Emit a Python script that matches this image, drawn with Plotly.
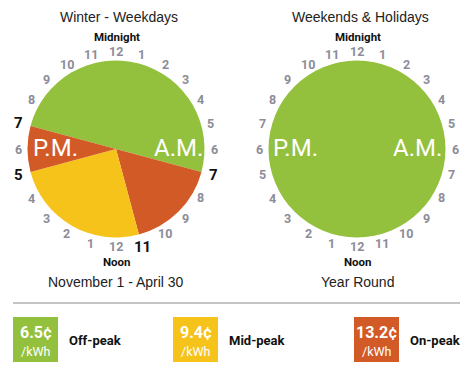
import math
import plotly.graph_objects as go

W, H = 474, 375

# ---- data ----
winter_periods = ["7 PM - 7 AM", "7 AM - 11 AM", "11 AM - 5 PM", "5 PM - 7 PM"]
winter_hours = [12, 4, 6, 2]
winter_types = ["Off-peak", "On-peak", "Mid-peak", "On-peak"]
weekend_periods = ["All day"]
weekend_hours = [24]
weekend_types = ["Off-peak"]
winter_start_hour = 19  # first slice starts at 7 PM
weekend_start_hour = 0

hour_labels = ["12", "1", "2", "3", "4", "5", "6", "7", "8", "9", "10", "11",
               "12", "1", "2", "3", "4", "5", "6", "7", "8", "9", "10", "11"]
winter_bold_hours = [7, 11, 17, 19]

price_types = ["Off-peak", "Mid-peak", "On-peak"]
price_values = ["6.5¢", "9.4¢", "13.2¢"]

colors = {"Off-peak": "#94C13D", "Mid-peak": "#F6C31B", "On-peak": "#D25A27"}

# ---- layout geometry (pixels) ----
CY = 149
R = 88.5
LABEL_R = 98
pies = [
    dict(cx=116, periods=winter_periods, hours=winter_hours, types=winter_types,
         start=winter_start_hour, bold=winter_bold_hours,
         title="Winter - Weekdays", sub="November 1 - April 30",
         pm_x=55, am_x=178),
    dict(cx=357, periods=weekend_periods, hours=weekend_hours, types=weekend_types,
         start=weekend_start_hour, bold=[],
         title="Weekends & Holidays", sub="Year Round",
         pm_x=295, am_x=417),
]

def px(x):
    return x / W

def py(y):
    return 1 - y / H

fig = go.Figure()
annotations = []
shapes = []

gray = "#8C8C98"
for p in pies:
    cx = p["cx"]
    fig.add_trace(go.Pie(
        labels=p["periods"], values=p["hours"], sort=False, direction="clockwise",
        rotation=p["start"] * 15,
        marker=dict(colors=[colors[t] for t in p["types"]], line=dict(width=0)),
        textinfo="none", hoverinfo="label+value", showlegend=False,
        domain=dict(x=[px(cx - R), px(cx + R)], y=[py(CY + R), py(CY - R)]),
    ))
    # clock labels
    for h, lab in enumerate(hour_labels):
        ang = math.radians(h * 15)
        bold = h in p["bold"]
        rr = LABEL_R + (3 if bold else 0)
        x = cx + rr * math.sin(ang)
        y = CY - rr * math.cos(ang)
        annotations.append(dict(
            x=px(x), y=py(y), text=f"<b>{lab}</b>",
            font=dict(family="Roboto", size=15 if bold else 12.5,
                      color="#111111" if bold else gray)))
    annotations += [
        dict(x=px(cx + 3), y=py(17), text=p["title"],
             font=dict(family="Liberation Sans", size=14, color="#222222")),
        dict(x=px(cx + 1), y=py(37), text="<b>Midnight</b>",
             font=dict(family="Roboto", size=11.5, color="#111111")),
        dict(x=px(cx + 1), y=py(262), text="<b>Noon</b>",
             font=dict(family="Roboto", size=11.5, color="#111111")),
        dict(x=px(cx), y=py(282), text=p["sub"],
             font=dict(family="Liberation Sans", size=14, color="#222222")),
        dict(x=px(p["pm_x"]), y=py(148), text="P.M.",
             font=dict(family="Roboto", size=24, color="white")),
        dict(x=px(p["am_x"]), y=py(148), text="A.M.",
             font=dict(family="Roboto", size=24, color="white")),
    ]

# separator line
shapes.append(dict(type="line", xref="paper", yref="paper",
                   x0=px(13), x1=px(460), y0=py(303), y1=py(303),
                   line=dict(color="#8A8A8A", width=1)))

# legend boxes
box_lefts = [13, 173, 354]
for bx, t, v in zip(box_lefts, price_types, price_values):
    shapes.append(dict(type="rect", xref="paper", yref="paper",
                       x0=px(bx), x1=px(bx + 45), y0=py(362), y1=py(317),
                       fillcolor=colors[t], line=dict(width=0)))
    annotations.append(dict(x=px(bx + 22.5), y=py(332), text=f"<b>{v}</b>",
                            font=dict(family="Roboto", size=16, color="white")))
    annotations.append(dict(x=px(bx + 22.5), y=py(351), text="/kWh",
                            font=dict(family="Roboto", size=12.5, color="white")))
    annotations.append(dict(x=px(bx + 54), y=py(340), text=f"<b>{t}</b>", xanchor="left",
                            font=dict(family="Roboto", size=13, color="#111111")))

for a in annotations:
    a.setdefault("xref", "paper")
    a.setdefault("yref", "paper")
    a.setdefault("showarrow", False)
    a.setdefault("xanchor", "center")
    a.setdefault("yanchor", "middle")

fig.update_layout(
    width=W, height=H, margin=dict(l=0, r=0, t=0, b=0),
    paper_bgcolor="white", plot_bgcolor="white",
    annotations=annotations, shapes=shapes, showlegend=False,
)
fig.write_html("out.html", config={"displayModeBar": False},
               post_script="document.body.style.margin='0';")
